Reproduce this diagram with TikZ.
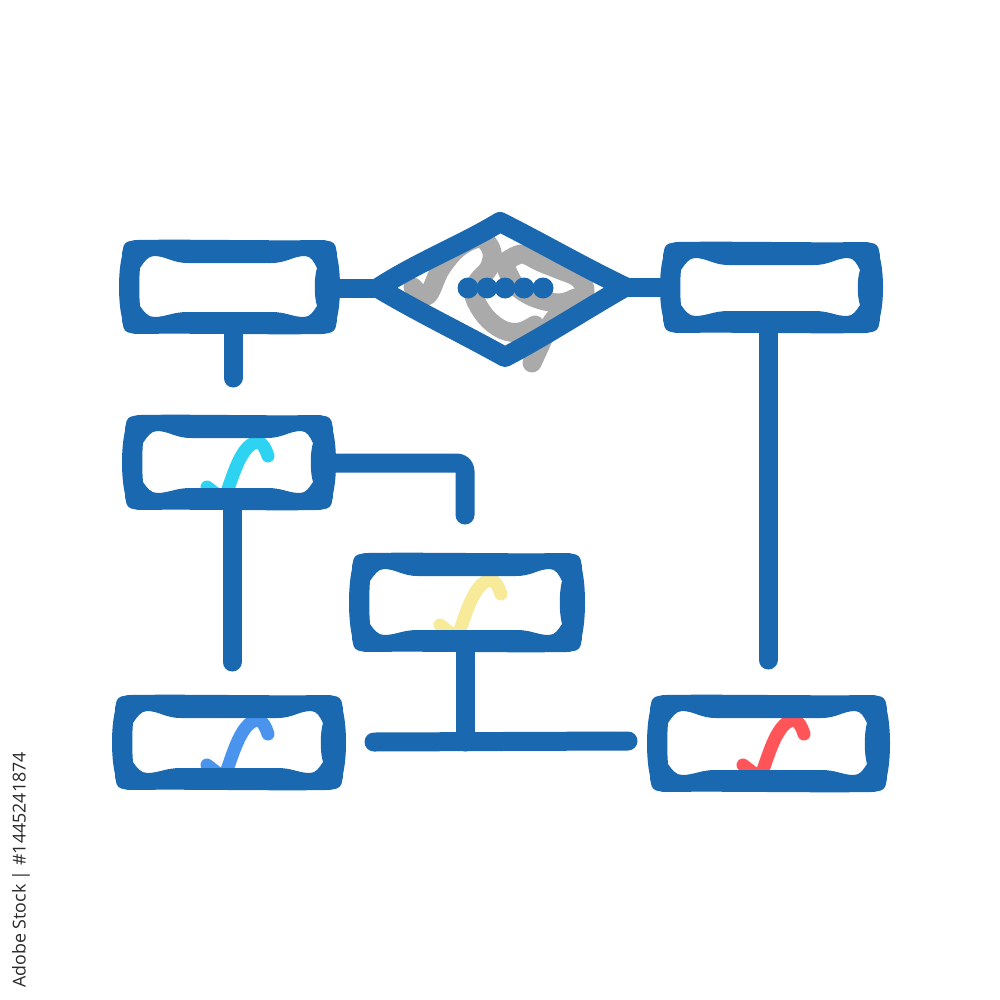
\documentclass[tikz,border=0pt]{standalone}
\usepackage{fontspec}
\newfontfamily\wmfont{Open Sans}
\usetikzlibrary{calc}
\definecolor{mblue}{HTML}{1A68B0}
\definecolor{cyanc}{HTML}{2ED3F2}
\definecolor{yellowc}{HTML}{F7EA98}
\definecolor{bluec}{HTML}{4A94EE}
\definecolor{redc}{HTML}{FF5558}
\definecolor{grayc}{HTML}{AAAAAA}
\definecolor{wmgray}{HTML}{2A2A2A}
\tikzset{
  conn/.style={draw=mblue, line width=19pt, line cap=round, line join=round},
  boxnode/.style={inner sep=0pt, outer sep=0pt, draw=none},
  chkline/.style={line width=13pt, line cap=round, line join=round},
  scribble/.style={draw=grayc, line width=19pt, line cap=round, line join=round},
}
\newcommand\ringbox[5]{%
  \pgfmathsetmacro\bw{#4-#2}\pgfmathsetmacro\bh{#5-#3}%
  \node[boxnode, minimum width=\bw pt, minimum height=\bh pt, anchor=north west] (#1) at (#2,#3) {};
  \begin{scope}[shift={(#2,#3)}]
    \fill[mblue, even odd rule]
      (16,0) .. controls ({\bw*0.3},-1) and ({\bw*0.7},1) .. ({\bw-16},0)
      .. controls ({\bw-5},0) and (\bw,5) .. (\bw,16)
      .. controls ({\bw+4},{\bh*0.35}) and ({\bw+4},{\bh*0.65}) .. (\bw,{\bh-16})
      .. controls (\bw,{\bh-5}) and ({\bw-5},\bh) .. ({\bw-16},\bh)
      .. controls ({\bw*0.7},{\bh+1}) and ({\bw*0.3},{\bh-1}) .. (16,\bh)
      .. controls (5,\bh) and (0,{\bh-5}) .. (0,{\bh-16})
      .. controls (-4,{\bh*0.65}) and (-4,{\bh*0.35}) .. (0,16)
      .. controls (0,5) and (5,0) .. cycle
      (18,28) .. controls (22,22) and (26,16) .. (32,16)
      .. controls (44,16) and (50,23) .. (66,23)
      -- ({\bw-66},23)
      .. controls ({\bw-50},23) and ({\bw-44},16) .. ({\bw-32},16)
      .. controls ({\bw-26},16) and ({\bw-23},22) .. ({\bw-20},28)
      .. controls ({\bw-23},{\bh*0.4}) and ({\bw-23},{\bh*0.6}) .. ({\bw-20},{\bh-28})
      .. controls ({\bw-24},{\bh-22}) and ({\bw-27},{\bh-17}) .. ({\bw-33},{\bh-17})
      .. controls ({\bw-45},{\bh-17}) and ({\bw-50},{\bh-22}) .. ({\bw-66},{\bh-22})
      -- (66,{\bh-22})
      .. controls (50,{\bh-22}) and (44,{\bh-17}) .. (32,{\bh-17})
      .. controls (26,{\bh-17}) and (22,{\bh-22}) .. (18,{\bh-28})
      .. controls (17,{\bh*0.6}) and (17,{\bh*0.4}) .. cycle;
    \fill[mblue] (9,9) circle (8pt) ({\bw-9},9) circle (8pt)
                 (9,{\bh-9}) circle (8pt) ({\bw-9},{\bh-9}) circle (8pt);
  \end{scope}}
\newcommand\chk[3]{%
  \draw[chkline, draw=#1] (#2,#3) -- ++(17,13)
    .. controls ++(8,-20) and ++(-17,3) .. ++(33,-58)
    .. controls ++(6,0) and ++(-2,-6) .. ++(11,14);}
\begin{document}
\begin{tikzpicture}[x=1pt,y=-1pt]
\useasboundingbox (0,0) rectangle (1000,1000);
\fill[white] (0,0) rectangle (1000,1000);

% gray scribble inside diamond
\draw[scribble] plot[smooth, tension=0.6] coordinates {(413,287) (427,296) (440,270) (455,251) (470,241) (483,239) (492,252) (489,268) (477,282) (474,296) (486,317) (503,330) (520,332) (535,325)};
\draw[scribble] plot[smooth, tension=0.6] coordinates {(505,262) (522,254) (540,262) (560,270) (578,278) (585,292) (572,305) (555,318) (545,335) (538,350) (532,363)};
\draw[scribble] plot[smooth, tension=0.6] coordinates {(505,265) (515,285) (535,298) (560,303) (575,298)};

% diamond
\coordinate (dW) at (378,288);
\coordinate (dN) at (500,222);
\coordinate (dE) at (625,287);
\coordinate (dS) at (505,357);
\draw[conn, line width=20pt] (dW) .. controls (418,262) and (462,245) .. (dN)
  .. controls (540,242) and (585,268) .. (dE)
  .. controls (588,308) and (545,336) .. (dS)
  .. controls (460,332) and (418,312) .. cycle;
\foreach \px [count=\i] in {468,487,505,524,543}
  \fill[mblue] (\px,288) circle (10.5pt) coordinate (dot\i);

% check marks (under box strokes)
\chk{cyanc}{207}{487}
\chk{yellowc}{440}{625}
\chk{bluec}{207}{765}
\chk{redc}{743}{765}

% boxes
\ringbox{b1}{122}{240}{337}{334}
\ringbox{b2}{663}{242}{880}{333}
\ringbox{b3}{125}{415}{333}{510}
\ringbox{b4}{352}{553}{582}{652}
\ringbox{b5}{115}{695}{343}{790}
\ringbox{b6}{650}{695}{887}{792}

% connectors
\coordinate (t1) at (233,378);
\draw[conn] (b1.south -| t1) -- (t1);
\draw[conn] (b1.east |- dW) -- (dW);
\draw[conn] (dE) -- (b2.west |- dE);
\coordinate (m1) at (465,463);
\coordinate (m2) at (465,515);
\draw[conn, rounded corners=8pt] (b3.east |- m1) -- (m1) -- (m2);
\coordinate (m3) at (232,662);
\draw[conn] (b3.south -| m3) -- (m3);
\coordinate (r1) at (768,660);
\draw[conn] (b2.south -| r1) -- (r1);
\coordinate (hM) at (465,742);
\coordinate (hL) at (374,742);
\coordinate (hR) at (628,741);
\draw[conn] (b4.south -| hM) -- (hM);
\draw[conn] (hL) -- (hR);

% watermark
\node[rotate=90, text=wmgray, font=\wmfont\fontsize{17.8}{21}\selectfont, inner sep=0pt] (wm) at (21,870) {Adobe Stock | \#1445241874};
\end{tikzpicture}
\end{document}
